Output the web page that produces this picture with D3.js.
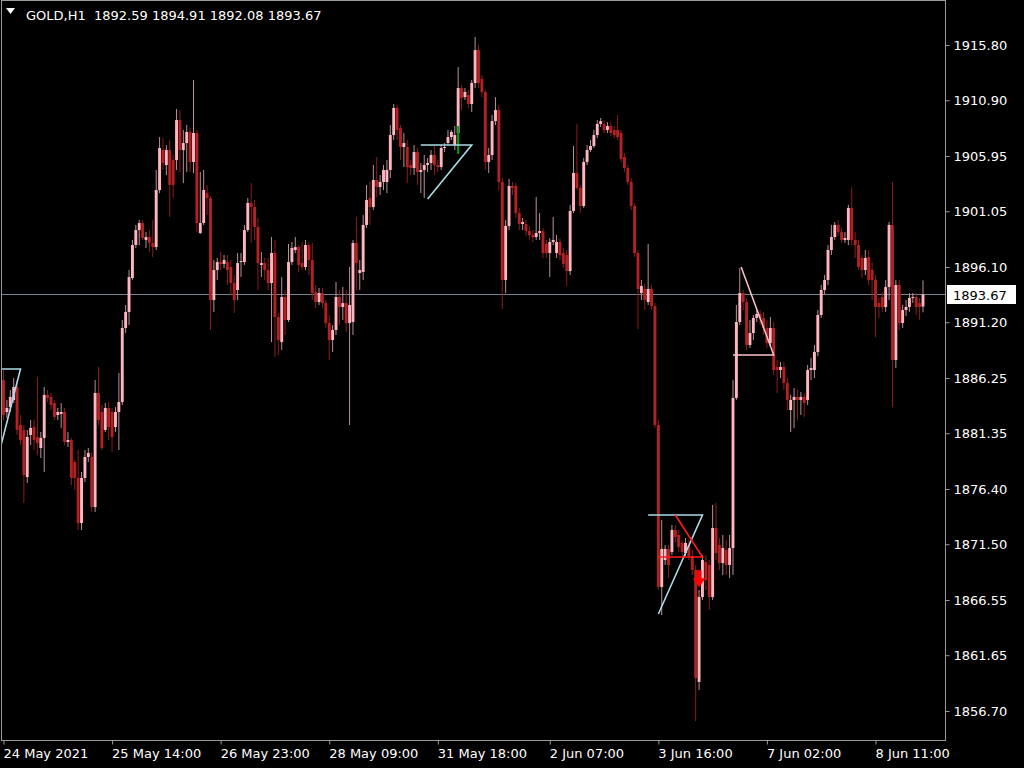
<!DOCTYPE html>
<html><head><meta charset="utf-8">
<script src="https://cdn.jsdelivr.net/npm/d3@7"></script>
<style>html,body{margin:0;padding:0;background:#000;overflow:hidden}</style>
</head><body>
<svg id="chart" width="1024" height="768"></svg>
<script>
const symbol = "GOLD,H1";
const opens = [
1886.07,1883.23,1883.68,1884.30,1885.45,1882.08,1881.64,1877.46,1881.20,1881.90,
1881.02,1880.04,1880.93,1884.74,1884.57,1884.03,1882.97,1883.06,1883.23,1880.57,
1880.75,1878.80,1877.38,1873.38,1877.38,1879.24,1879.24,1874.80,1884.92,1883.23,
1881.64,1883.59,1883.23,1881.90,1883.23,1884.12,1890.69,1892.11,1895.12,1898.05,
1899.38,1900.00,1898.50,1898.76,1898.23,1897.87,1902.93,1906.48,1905.15,1906.48,
1905.59,1905.59,1909.14,1906.48,1907.10,1908.08,1905.42,1907.99,1899.12,1900.00,
1902.66,1902.22,1893.17,1895.83,1896.54,1896.37,1896.54,1896.10,1894.68,1894.06,
1896.54,1896.54,1899.38,1901.78,1901.42,1899.65,1896.28,1896.45,1895.83,1894.68,
1897.34,1891.66,1889.44,1893.44,1891.40,1896.54,1897.61,1897.87,1896.45,1896.10,
1898.05,1896.72,1893.88,1892.99,1893.79,1892.90,1891.13,1889.62,1890.51,1893.44,
1892.55,1892.90,1891.13,1891.22,1898.23,1895.57,1895.66,1899.83,1902.22,1901.42,
1903.82,1903.20,1903.64,1903.64,1904.71,1907.81,1910.21,1908.43,1906.75,1906.75,
1905.15,1904.88,1906.30,1904.53,1904.71,1905.15,1905.33,1906.04,1905.15,1904.97,
1906.66,1907.10,1907.63,1906.92,1907.99,1911.98,1911.18,1911.36,1910.56,1912.43,
1915.35,1912.78,1911.63,1905.42,1906.04,1909.05,1910.03,1903.64,1894.95,1899.74,
1903.29,1903.29,1900.89,1899.92,1899.92,1899.29,1898.94,1898.76,1899.12,1899.29,
1898.14,1897.34,1898.32,1897.34,1898.32,1897.34,1897.16,1895.74,1901.07,1904.44,
1903.11,1901.51,1905.42,1906.48,1906.84,1907.81,1908.79,1908.79,1908.26,1908.61,
1908.26,1908.26,1907.99,1905.86,1904.88,1903.64,1901.51,1897.34,1893.79,1894.15,
1892.99,1894.15,1892.64,1882.08,1867.71,1870.10,1871.08,1870.81,1872.76,1872.32,
1871.61,1870.72,1871.43,1870.45,1869.21,1859.28,1866.82,1869.92,1869.66,1866.82,
1872.94,1871.43,1869.83,1870.99,1869.66,1871.16,1884.48,1891.22,1893.79,1892.99,
1889.18,1890.24,1891.58,1891.93,1891.58,1890.69,1889.35,1890.69,1887.23,1886.96,
1887.23,1885.81,1883.41,1884.30,1884.57,1884.30,1884.57,1884.30,1886.96,1886.96,
1888.56,1891.84,1894.06,1894.95,1897.61,1898.76,1899.83,1899.20,1898.50,1898.50,
1901.34,1898.50,1898.05,1896.90,1895.83,1896.99,1895.83,1894.95,1892.90,1893.44,
1892.55,1894.32,1899.83,1887.85,1894.50,1891.13,1892.28,1892.55,1893.35,1893.44,
1892.90,1892.59];
const highs = [
1886.96,1884.30,1885.19,1886.25,1886.07,1882.97,1882.08,1881.64,1882.52,1882.52,
1886.34,1881.46,1885.45,1885.19,1884.92,1884.30,1883.59,1884.03,1883.59,1881.46,
1880.93,1878.97,1879.86,1877.91,1879.86,1880.04,1879.68,1886.07,1887.23,1883.86,
1884.03,1884.12,1883.59,1883.68,1886.69,1891.40,1892.73,1895.83,1898.50,1899.83,
1900.27,1900.27,1899.20,1899.38,1900.27,1904.71,1907.63,1907.54,1906.92,1907.37,
1906.04,1910.12,1910.03,1908.26,1908.70,1908.43,1912.69,1908.26,1904.53,1904.71,
1903.38,1902.40,1896.72,1896.90,1897.43,1897.16,1897.16,1896.72,1895.39,1897.34,
1897.34,1899.83,1902.22,1903.55,1902.05,1900.45,1897.43,1896.90,1896.90,1898.76,
1898.50,1892.02,1895.21,1894.06,1898.14,1898.32,1898.76,1898.05,1898.32,1898.50,
1898.32,1898.23,1894.50,1894.24,1894.24,1893.17,1891.84,1890.95,1894.77,1894.06,
1894.32,1894.06,1896.10,1898.50,1900.54,1896.72,1900.71,1903.38,1903.64,1905.15,
1905.86,1904.26,1905.15,1905.59,1908.70,1910.56,1910.47,1908.70,1907.99,1907.37,
1905.59,1906.92,1906.66,1905.33,1906.04,1905.77,1906.48,1906.92,1905.59,1906.92,
1907.10,1908.26,1908.26,1908.61,1913.85,1912.25,1911.98,1911.80,1912.69,1916.51,
1915.80,1913.14,1911.80,1906.66,1909.59,1911.18,1910.47,1903.99,1900.27,1903.91,
1903.64,1903.55,1901.34,1900.45,1900.27,1899.74,1899.38,1902.31,1900.89,1899.56,
1898.50,1898.67,1900.54,1898.94,1898.67,1897.79,1897.61,1901.60,1906.84,1908.79,
1903.38,1905.77,1906.92,1907.37,1908.26,1909.14,1909.32,1909.14,1908.96,1908.96,
1908.61,1909.59,1908.26,1906.21,1905.15,1903.99,1901.78,1897.61,1894.95,1894.59,
1898.14,1894.50,1892.90,1882.52,1873.65,1871.43,1871.43,1873.20,1873.20,1872.76,
1871.88,1872.05,1871.88,1870.99,1869.66,1867.44,1870.54,1870.54,1870.10,1874.98,
1875.16,1872.05,1872.32,1871.88,1872.32,1886.07,1892.73,1896.01,1894.06,1893.35,
1891.40,1891.84,1892.28,1892.28,1892.11,1891.40,1891.66,1891.22,1887.85,1887.67,
1887.67,1886.25,1884.74,1885.36,1885.19,1885.01,1884.92,1887.40,1888.02,1889.18,
1892.28,1894.50,1895.39,1898.05,1899.83,1900.09,1900.27,1899.56,1899.20,1901.60,
1903.20,1899.20,1898.50,1897.16,1897.61,1897.61,1896.54,1895.39,1893.35,1893.88,
1894.95,1900.09,1903.64,1894.95,1894.95,1892.73,1893.17,1893.79,1893.79,1893.79,
1893.35,1894.91];
const lows = [
1882.52,1882.70,1883.23,1884.03,1881.20,1880.31,1875.16,1876.93,1880.31,1879.86,
1879.42,1879.15,1877.91,1884.12,1883.41,1882.52,1882.52,1881.82,1880.31,1880.13,
1876.76,1876.31,1872.76,1872.76,1877.02,1878.80,1874.36,1874.36,1882.08,1879.86,
1881.46,1880.75,1879.68,1881.46,1879.86,1883.86,1890.24,1890.95,1894.95,1897.79,
1898.05,1898.50,1897.79,1897.43,1896.99,1897.61,1902.66,1904.71,1904.26,1900.54,
1902.22,1904.71,1904.53,1903.55,1904.53,1904.53,1904.44,1899.20,1899.03,1899.83,
1900.71,1890.51,1892.11,1894.95,1895.83,1896.01,1894.50,1893.62,1892.02,1893.17,
1895.21,1896.28,1899.20,1898.23,1898.50,1894.06,1895.21,1894.95,1894.06,1889.44,
1888.11,1888.29,1888.74,1890.07,1891.22,1896.28,1897.34,1895.66,1895.83,1895.83,
1895.39,1893.17,1892.46,1892.73,1892.46,1890.69,1887.85,1888.56,1890.07,1890.95,
1891.40,1890.33,1882.08,1890.07,1894.06,1894.06,1894.95,1899.56,1899.83,1901.16,
1902.31,1902.49,1902.93,1902.66,1903.99,1907.37,1907.37,1905.59,1904.97,1903.55,
1904.26,1904.26,1903.38,1902.66,1902.22,1904.53,1904.71,1904.26,1904.53,1904.71,
1906.30,1906.92,1907.37,1906.48,1906.48,1910.03,1910.92,1910.21,1909.85,1911.98,
1911.98,1911.18,1904.71,1904.44,1905.59,1908.70,1902.93,1892.37,1893.79,1899.38,
1902.49,1900.45,1899.38,1899.38,1898.85,1898.50,1898.32,1898.50,1898.50,1896.90,
1896.90,1895.21,1898.05,1896.90,1896.72,1896.01,1894.41,1895.39,1900.89,1902.93,
1900.89,1901.34,1905.15,1906.30,1906.66,1907.54,1908.52,1907.99,1907.99,1907.72,
1907.54,1907.37,1905.42,1904.53,1903.38,1901.16,1896.99,1890.60,1893.17,1892.28,
1892.73,1892.28,1881.82,1867.44,1865.22,1869.66,1868.51,1870.54,1871.70,1870.81,
1870.45,1870.45,1870.10,1868.77,1855.81,1858.56,1866.55,1867.44,1865.67,1866.55,
1870.10,1869.21,1868.77,1868.77,1868.51,1868.77,1884.30,1890.95,1892.28,1888.74,
1888.91,1889.62,1891.22,1890.95,1890.07,1888.91,1889.09,1886.52,1884.92,1886.25,
1885.19,1883.41,1881.46,1881.82,1882.52,1882.97,1882.79,1883.86,1886.07,1886.25,
1888.20,1891.58,1893.62,1894.50,1897.16,1898.50,1898.85,1898.23,1898.23,1898.05,
1898.05,1896.90,1895.83,1895.12,1895.39,1894.50,1893.17,1889.88,1891.58,1892.11,
1892.11,1893.17,1883.68,1887.14,1890.51,1890.69,1891.75,1892.11,1892.90,1891.84,
1891.40,1892.08];
const closes = [
1882.97,1883.59,1884.57,1885.45,1881.64,1880.75,1877.64,1881.02,1881.82,1880.75,
1880.48,1880.93,1884.74,1884.48,1883.86,1882.79,1883.23,1883.23,1880.57,1880.75,
1877.38,1877.38,1873.38,1877.38,1879.24,1879.60,1874.80,1884.92,1882.52,1880.04,
1883.59,1881.90,1881.02,1883.23,1884.12,1890.69,1892.11,1895.21,1898.05,1899.38,
1900.00,1898.67,1898.76,1898.23,1897.87,1902.93,1906.66,1905.33,1906.48,1903.38,
1903.38,1909.14,1906.48,1907.10,1908.08,1905.42,1907.99,1900.00,1900.00,1902.93,
1902.22,1893.17,1895.83,1896.54,1896.37,1896.72,1895.83,1894.68,1893.17,1896.45,
1896.63,1899.38,1901.78,1901.42,1899.65,1896.45,1896.45,1895.83,1894.68,1897.34,
1891.66,1889.62,1893.44,1891.40,1896.54,1897.79,1897.87,1896.28,1896.10,1898.05,
1896.72,1893.79,1892.99,1893.79,1892.90,1891.13,1889.62,1890.51,1893.44,1892.55,
1892.90,1891.13,1892.73,1898.23,1896.45,1895.83,1899.83,1902.05,1901.42,1903.82,
1903.20,1903.64,1904.71,1904.71,1907.81,1910.21,1908.26,1906.75,1907.10,1904.97,
1904.88,1906.30,1904.53,1904.71,1905.15,1905.33,1906.04,1905.15,1904.97,1906.66,
1906.75,1907.63,1908.08,1907.81,1911.98,1911.09,1911.63,1910.56,1912.43,1915.35,
1912.43,1911.63,1905.42,1906.04,1909.05,1910.03,1903.64,1894.95,1899.74,1903.29,
1903.11,1900.89,1899.92,1900.09,1899.29,1898.94,1898.76,1899.12,1899.29,1897.34,
1897.34,1898.32,1898.50,1898.32,1897.16,1896.37,1895.74,1901.07,1904.44,1903.11,
1901.51,1905.42,1906.48,1906.84,1907.81,1908.79,1909.05,1908.26,1908.61,1907.99,
1907.81,1907.63,1905.68,1904.88,1903.64,1901.51,1897.34,1894.15,1894.41,1893.17,
1894.15,1892.64,1882.08,1867.71,1871.08,1871.08,1869.66,1872.76,1872.14,1871.26,
1870.81,1871.61,1870.45,1869.21,1859.63,1866.82,1870.10,1868.33,1866.82,1872.94,
1870.72,1869.83,1871.16,1869.66,1871.16,1884.48,1891.22,1893.79,1892.99,1889.18,
1890.24,1891.58,1891.93,1891.58,1890.69,1889.35,1890.69,1886.96,1886.96,1887.23,
1885.81,1884.30,1884.30,1884.57,1884.30,1884.57,1884.03,1886.96,1887.14,1888.56,
1891.84,1894.06,1894.95,1897.61,1898.76,1899.83,1899.20,1898.50,1898.67,1901.34,
1898.50,1898.05,1896.10,1895.83,1896.90,1894.95,1894.95,1892.55,1892.55,1892.55,
1894.32,1899.83,1887.85,1894.50,1891.13,1892.28,1892.55,1893.35,1893.44,1892.55,
1892.55,1893.67];

const priceTicks = [1915.80,1910.90,1905.95,1901.05,1896.10,1891.20,1886.25,1881.35,1876.40,1871.50,1866.55,1861.65,1856.70];
const timeTickIdx = [0,32,64,96,128,161,193,225,257];
const timeTickLabels = ["24 May 2021","25 May 14:00","26 May 23:00","28 May 09:00","31 May 18:00","2 Jun 07:00","3 Jun 16:00","7 Jun 02:00","8 Jun 11:00"];

// pattern objects: [bar index, price]
const cyanShapes = [
  [[-7,1887.05],[5,1887.05],[-4,1876.40]],
  [[123,1906.92],[138,1906.92],[125,1902.13]],
  [[190,1874.09],[206,1874.09],[193,1865.31]]
];
const redShape = [[198,1874.09],[206,1870.37],[193,1870.37]];
const pinkShape = [[217.4,1896.10],[227,1888.29],[215,1888.29]];
const arrowSignal = [205, 1869.2];
const greenBar = [134, 1908.61, 1906.13];

const W = 1024, H = 768;
const plotL = 1.5, plotR = 945.5, plotT = 0.5, plotB = 740.5;
const n = closes.length;
const svg = d3.select("#chart");
const font = "'DejaVu Sans', Verdana, sans-serif";

svg.append("rect").attr("width", W).attr("height", H).attr("fill", "#000");

const x = d3.scaleLinear().domain([0, n - 1]).range([3.5, 923]);
const y = d3.scaleLinear().domain([1856.70, 1915.80]).range([711, 45]);

svg.append("defs").append("clipPath").attr("id", "plotClip")
  .append("rect").attr("x", plotL).attr("y", plotT).attr("width", plotR - plotL).attr("height", plotB - plotT);

const plot = svg.append("g").attr("clip-path", "url(#plotClip)");

// bid line
const last = n - 1;
plot.append("line").attr("x1", plotL).attr("x2", plotR)
  .attr("y1", Math.round(y(closes[last])) + 0.5).attr("y2", Math.round(y(closes[last])) + 0.5)
  .attr("stroke", "#77848f").attr("stroke-width", 1);

const data = d3.range(n).map(i => ({i, o: opens[i], h: highs[i], l: lows[i], c: closes[i]}));
const bw = 2.9;
const candles = plot.append("g");
candles.selectAll("line.wick").data(data).join("line").attr("class", "wick")
  .attr("x1", d => x(d.i)).attr("x2", d => x(d.i))
  .attr("y1", d => y(d.h)).attr("y2", d => y(d.l))
  .attr("stroke", d => d.c >= d.o ? "#b89098" : "#8f1c1c").attr("stroke-width", 1);
candles.selectAll("rect.body").data(data).join("rect").attr("class", "body")
  .attr("x", d => x(d.i) - bw / 2).attr("width", bw)
  .attr("y", d => y(Math.max(d.o, d.c)))
  .attr("height", d => Math.max(1, Math.abs(y(d.o) - y(d.c))))
  .attr("fill", d => d.c >= d.o ? "#ffb6c1" : "#b22222");

// green indicator mark
plot.append("rect").attr("x", x(greenBar[0]) - 1).attr("width", 2)
  .attr("y", y(greenBar[1])).attr("height", y(greenBar[2]) - y(greenBar[1]))
  .attr("fill", "#00a000");

const line = d3.line().x(d => x(d[0])).y(d => y(d[1]));
cyanShapes.forEach(s => plot.append("path").attr("d", line(s)).attr("fill", "none")
  .attr("stroke", "#a8dce6").attr("stroke-width", 1.6));
plot.append("path").attr("d", line(redShape)).attr("fill", "none").attr("stroke", "#ff1a1a").attr("stroke-width", 1.6);
plot.append("path").attr("d", line(pinkShape)).attr("fill", "none").attr("stroke", "#ffc0cb").attr("stroke-width", 1.5);

// down arrow signal
const ax = x(arrowSignal[0]), ay = y(arrowSignal[1]);
plot.append("path")
  .attr("d", `M${ax-2.5},${ay} L${ax+2.5},${ay} L${ax+2.5},${ay+8} L${ax+6.5},${ay+8} L${ax},${ay+17} L${ax-6.5},${ay+8} L${ax-2.5},${ay+8} Z`)
  .attr("fill", "#ff0000");

// frame
svg.append("rect").attr("x", plotL).attr("y", plotT).attr("width", plotR - plotL).attr("height", plotB - plotT)
  .attr("fill", "none").attr("stroke", "#9a9a9a").attr("stroke-width", 1);

// right price axis
const yAxis = svg.append("g").attr("transform", `translate(${plotR},0)`)
  .call(d3.axisRight(y).tickValues(priceTicks).tickFormat(d3.format(".2f")).tickSize(4).tickPadding(4));
yAxis.select(".domain").remove();
yAxis.selectAll(".tick line").attr("stroke", "#9a9a9a");
yAxis.selectAll(".tick text").attr("fill", "#fff").style("font-family", font).style("font-size", "13px");

// bottom time axis
const xAxis = svg.append("g").attr("transform", `translate(0,${plotB})`)
  .call(d3.axisBottom(x).tickValues(timeTickIdx).tickFormat((d, i) => timeTickLabels[i]).tickSize(4).tickPadding(4));
xAxis.select(".domain").remove();
xAxis.selectAll(".tick line").attr("stroke", "#9a9a9a");
xAxis.selectAll(".tick text").attr("fill", "#fff").attr("text-anchor", "start").attr("x", -0.5)
  .style("font-family", font).style("font-size", "13px");

// current price label
const ly = Math.round(y(closes[last])) + 0.5;
svg.append("rect").attr("x", 947).attr("y", ly - 9.5).attr("width", 69).attr("height", 19)
  .attr("fill", "#fff");
svg.append("text").attr("x", 953).attr("y", ly + 5).attr("fill", "#000")
  .style("font-family", font).style("font-size", "13px").text(d3.format(".2f")(closes[last]));

// header
svg.append("path").attr("d", "M6,8 L15,8 L10.5,14 Z").attr("fill", "#fff");
svg.append("text").attr("x", 26).attr("y", 20).attr("fill", "#fff")
  .style("font-family", font).style("font-size", "13px").style("white-space", "pre")
  .text(`${symbol}  ${[opens[last], highs[last], lows[last], closes[last]].map(d3.format(".2f")).join(" ")}`);
</script>
</body></html>
